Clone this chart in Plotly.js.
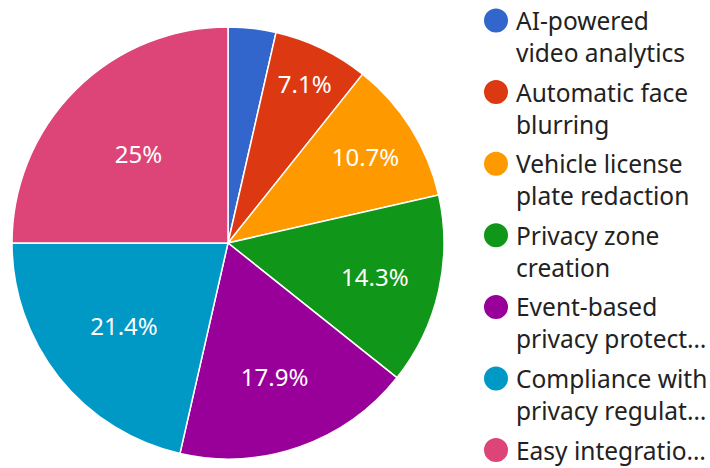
<!DOCTYPE html>
<html>
<head>
<meta charset="utf-8">
<script src="https://cdn.plot.ly/plotly-3.0.1.min.js"></script>
<style>html,body{margin:0;padding:0;background:#fff;}#chart{width:710px;height:468px;}</style>
</head>
<body>
<div id="chart"></div>
<script>
// Data
const categories = [
  "AI-powered video analytics",
  "Automatic face blurring",
  "Vehicle license plate redaction",
  "Privacy zone creation",
  "Event-based privacy protection",
  "Compliance with privacy regulations",
  "Easy integration"
];
const values = [1, 2, 3, 4, 5, 6, 7];
// Legend labels as displayed (wrapped / truncated)
const legendLines = [
  ["AI-powered", "video analytics"],
  ["Automatic face", "blurring"],
  ["Vehicle license", "plate redaction"],
  ["Privacy zone", "creation"],
  ["Event-based", "privacy protect\u2026"],
  ["Compliance with", "privacy regulat\u2026"],
  ["Easy integratio\u2026"]
];
const colors = ["#3366cc", "#dc3912", "#ff9900", "#109618", "#990099", "#0099c6", "#dd4477"];

const W = 710, H = 468;
const total = values.reduce((a, b) => a + b, 0);
const texts = values.map(v => {
  const p = Math.round(v / total * 1000) / 10;
  return p < 5 ? "" : p + "%";
});

const font = "Noto Sans, sans-serif";

const trace = {
  type: "pie",
  labels: categories,
  values: values,
  text: texts,
  textinfo: "text",
  textposition: "inside",
  insidetextorientation: "horizontal",
  sort: false,
  direction: "clockwise",
  rotation: 0,
  marker: {colors: colors, line: {color: "#ffffff", width: 1.5}},
  textfont: {family: font, size: 24, color: "#ffffff"},
  domain: {x: [12 / W, 444 / W], y: [1 - 459 / H, 1 - 27 / H]},
  hoverinfo: "label+percent",
  showlegend: false
};

const shapes = [];
const annotations = [];
const legX = 496, legR = 12, textX = 515, firstY = 20.5, step = 71.6, lineH = 32;
legendLines.forEach((lines, i) => {
  const cy = firstY + i * step;
  shapes.push({
    type: "circle", xref: "paper", yref: "paper",
    x0: (legX - legR) / W, x1: (legX + legR) / W,
    y0: 1 - (cy + legR) / H, y1: 1 - (cy - legR) / H,
    fillcolor: colors[i], line: {width: 0}
  });
  lines.forEach((t, j) => {
    annotations.push({
      xref: "paper", yref: "paper",
      x: textX / W, y: 1 - (cy + j * lineH) / H,
      xanchor: "left", yanchor: "middle",
      borderpad: 0,
      text: t, showarrow: false,
      font: {family: font, size: 24.5, color: "#222222"}
    });
  });
});

const layout = {
  width: W, height: H,
  margin: {l: 0, r: 0, t: 0, b: 0},
  paper_bgcolor: "#ffffff",
  showlegend: false,
  shapes: shapes,
  annotations: annotations,
  font: {family: font}
};

Plotly.newPlot("chart", [trace], layout, {displayModeBar: false, staticPlot: true});
</script>
</body>
</html>
